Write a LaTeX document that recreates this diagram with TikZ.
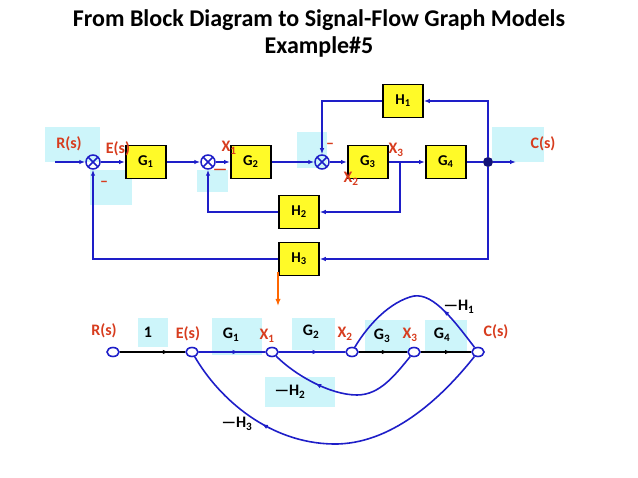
\documentclass[tikz,border=0pt]{standalone}
\usepackage{fontspec}
\setmainfont{Carlito}
\usetikzlibrary{arrows.meta,decorations.markings,shapes.geometric}
\definecolor{bl}{RGB}{30,30,200}
\definecolor{rd}{RGB}{215,60,30}
\definecolor{cy}{RGB}{205,245,250}
\definecolor{yl}{RGB}{255,250,40}
\begin{document}
\begin{tikzpicture}[x=1pt,y=-1pt,font=\bfseries,
 blk/.style={draw=black,line width=1.5pt,fill=yl,minimum width=40pt,minimum height=33pt,inner sep=0pt,font=\bfseries\fontsize{15}{17}\selectfont},
 sum/.style={draw=bl,line width=1.5pt,circle,minimum size=14pt,inner sep=0pt,path picture={\draw[bl,line width=1.5pt] (path picture bounding box.north west)--(path picture bounding box.south east) (path picture bounding box.north east)--(path picture bounding box.south west);}},
 w/.style={bl,line width=1.6pt,-{Latex[length=6pt]}},
 ln/.style={bl,line width=1.6pt},
 lab/.style={text=rd,font=\bfseries\fontsize{16}{18}\selectfont},
 sn/.style={draw=bl,line width=1.6pt,fill=white,ellipse,minimum width=12pt,minimum height=9pt,inner sep=0pt},
 mid/.style={postaction={decorate},decoration={markings,mark=at position #1 with {\arrow{Latex[length=6pt]}}}},
 gl/.style={font=\bfseries\fontsize{16}{18}\selectfont}]
\useasboundingbox (0,0) rectangle (638,478);
\node[font=\bfseries\fontsize{24}{28}\selectfont] (t1) at (319,20) {From Block Diagram to Signal-Flow Graph Models};
\node[font=\bfseries\fontsize{24}{28}\selectfont] (t2) at (319,47) {Example\#5};
% backgrounds
\fill[cy] (45,127) rectangle (100,162);
\fill[cy] (90,170) rectangle (132,205);
\fill[cy] (197,170) rectangle (228,192);
\fill[cy] (297,132) rectangle (327,168);
\fill[cy] (492,127) rectangle (544,162);
% block diagram
\coordinate (in) at (55,162);
\node[sum] (s1) at (93,162) {};
\node[blk,anchor=west] (g1) at (125,162) {G\textsubscript{1}};
\node[sum] (s2) at (208,162) {};
\node[blk,anchor=west] (g2) at (230,162) {G\textsubscript{2}};
\node[sum] (s3) at (322,162) {};
\node[blk,anchor=west] (g3) at (347,162) {G\textsubscript{3}};
\node[blk,anchor=west] (g4) at (425,162) {G\textsubscript{4}};
\node[circle,fill=bl!60!black,minimum size=10pt,inner sep=0pt] (j) at (488,162) {};
\coordinate (out) at (516,162);
\node[blk] (h1) at (403,101) {H\textsubscript{1}};
\node[blk] (h2) at (299,212) {H\textsubscript{2}};
\node[blk] (h3) at (299,259) {H\textsubscript{3}};
\coordinate (x3) at (400,162);
\draw[w] (in)--(s1);
\draw[w] (s1)--(g1);
\draw[w] (g1)--(s2);
\draw[w] (s2)--(g2);
\draw[w] (g2)--(s3);
\draw[w] (s3)--(g3);
\draw[w] (g3)--(g4);
\draw[ln] (g4)--(j);
\draw[w] (j)--(out);
\draw[w] (j) |- (h1.east);
\draw[w] (h1.west) -| (s3.north);
\draw[w] (x3) |- (h2.east);
\draw[w] (h2.west) -| (s2.south);
\draw[w] (j) |- (h3.east);
\draw[w] (h3.west) -| (s1.south);
\node[lab] (lr) at (69,144) {R(s)};
\node[lab] (le) at (118,149) {E(s)};
\node[lab] (lm1) at (104,184) {–};
\node[lab] (lx1) at (229,148) {X\textsubscript{1}};
\node[lab] (lm2) at (220,172) {—};
\node[lab] (lm3) at (330,146) {–};
\node[lab] (lx2) at (351,179) {X\textsubscript{2}};
\node[lab] (lx3) at (396,150) {X\textsubscript{3}};
\node[lab] (lc) at (543,144) {C(s)};
\coordinate (oa) at (278,272);
\coordinate (ob) at (278,306);
\draw[orange!80!red,line width=1.5pt,-{Latex[length=7pt]}] (oa)--(ob);
% SFG backgrounds
\fill[cy] (138,318) rectangle (168,347);
\fill[cy] (212,318) rectangle (262,355);
\fill[cy] (292,318) rectangle (335,350);
\fill[cy] (365,320) rectangle (410,352);
\fill[cy] (425,320) rectangle (467,352);
\fill[cy] (265,377) rectangle (335,407);
% SFG
\node[sn] (nr) at (113,352) {};
\node[sn] (ne) at (192,352) {};
\node[sn] (n1) at (272,352) {};
\node[sn] (n2) at (352,352) {};
\node[sn] (n3) at (414,352) {};
\node[sn] (nc) at (478,352) {};
\draw[line width=1.3pt,mid=0.75] (nr)--(ne);
\draw[ln,mid=0.6] (ne)--(n1);
\draw[ln,mid=0.6] (n1)--(n2);
\draw[line width=1.3pt,mid=0.6] (n2)--(n3);
\draw[line width=1.3pt,mid=0.6] (n3)--(nc);
\draw[ln,mid=0.3] (nc) .. controls (450,315) and (430,290) .. (410,297) .. controls (385,305) and (365,330) .. (n2);
\draw[ln,mid=0.7] (n3) .. controls (395,375) and (380,395) .. (357,395) .. controls (330,395) and (295,375) .. (n1);
\draw[ln,mid=0.72] (nc) .. controls (440,400) and (390,445) .. (333,444) .. controls (270,443) and (220,400) .. (ne);
\node[lab] (sr) at (104,331) {R(s)};
\node[gl] (s1l) at (148,332) {1};
\node[lab] (se) at (188,334) {E(s)};
\node[gl] (sg1) at (231,335) {G\textsubscript{1}};
\node[lab] (sx1) at (267,336) {X\textsubscript{1}};
\node[gl] (sg2) at (311,332) {G\textsubscript{2}};
\node[lab] (sx2) at (345,334) {X\textsubscript{2}};
\node[gl] (sg3) at (382,336) {G\textsubscript{3}};
\node[lab] (sx3) at (410,335) {X\textsubscript{3}};
\node[gl] (sg4) at (442,335) {G\textsubscript{4}};
\node[lab] (sc) at (496,332) {C(s)};
\node[gl] (sh1) at (459,307) {—H\textsubscript{1}};
\node[gl] (sh2) at (290,392) {—H\textsubscript{2}};
\node[gl] (sh3) at (237,424) {—H\textsubscript{3}};
\end{tikzpicture}
\end{document}
